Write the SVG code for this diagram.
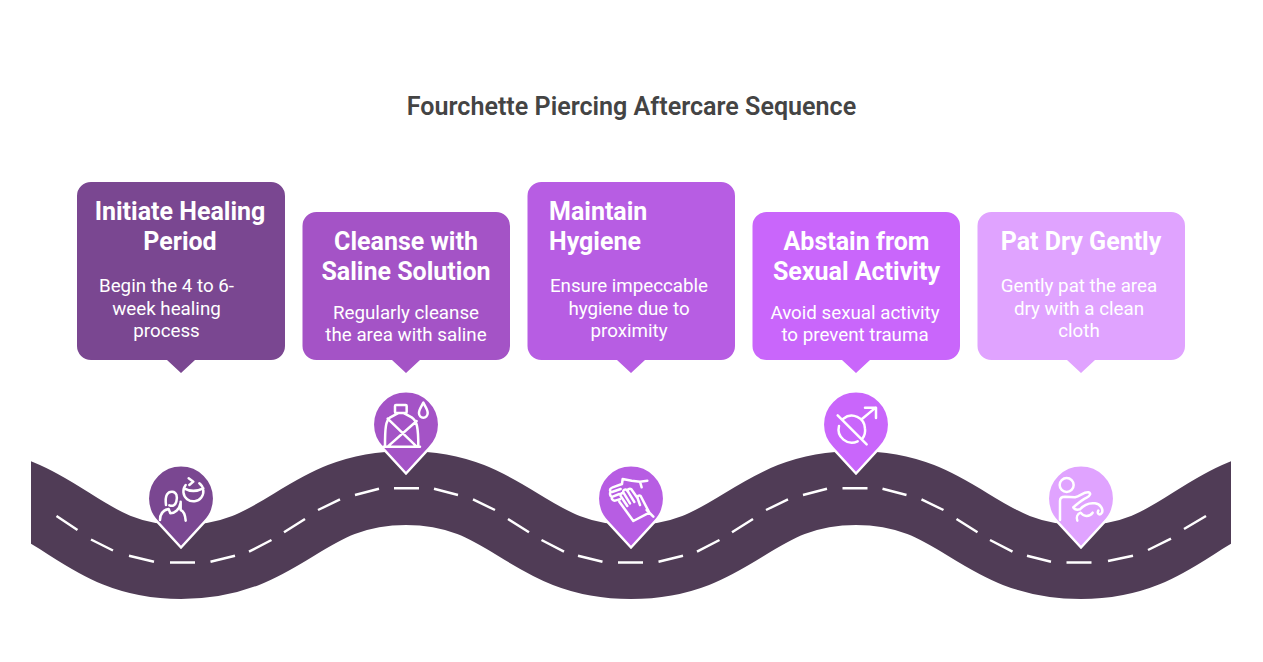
<svg xmlns="http://www.w3.org/2000/svg" width="1263" height="662" viewBox="0 0 1263 662">
<style>
text{font-family:Roboto,"Liberation Sans",sans-serif}
.t{font-size:25px;font-weight:700;fill:#fff;text-anchor:middle}
.b{font-size:18.750px;font-weight:400;fill:#fff;text-anchor:middle}
.i{fill:none;stroke:#fff;stroke-width:7.500;stroke-linecap:round;stroke-linejoin:round}
.p{stroke:#fff;stroke-width:2.500}
</style>
<defs>
<clipPath id="c"><rect x="31" y="400" width="1200" height="240"/></clipPath>
<path id="pin" d="M-23.300,23.300 A33.200,33.200 0 1 1 23.300,23.300 L0,48.700 Z"/>
</defs>
<rect width="1263" height="662" fill="#fff"/>
<text x="631.500" y="115.300" text-anchor="middle" font-size="25.100" font-weight="600" fill="#444">Fourchette Piercing Aftercare Sequence</text>
<g id="connectors">
<path clip-path="url(#c)" fill="none" stroke="#503c56" stroke-width="74" d="M-44,485C61,485 76,562 181,562C286,562 301,488 406,488C511,488 526,562 631,562C736,562 751,488 856,488C961,488 976,562 1081,562C1186,562 1201,485 1306,485"/>
<path fill="none" stroke="#fff" stroke-width="2.500" d="M56.500,516L77.500,530M91,539.500L113,550.500M129,555.700L154,561.700M170,562.500H195M210.500,561.700L235,555.700M249,551.700L271.500,540M284,532.300L305,519M318,510L340,499.300M355,495L379,488.700M394,488.300H419M434,488.700L458,495M473,499.300L495,510M508,519L529,532.300M541.500,540L564,551.700M578,555.700L602.500,561.700M618,562.500H643M658.500,561.700L683,555.700M697,551.700L719.500,540M732,532.300L753,519M766,510L788,499.300M803,495L827,488.700M842.500,488.300H867.500M882.500,488.700L906.500,495M921.500,499.300L943.500,510M956.500,519L977.500,532.300M990,540L1012.500,551.700M1027,555.700L1051,561.700M1066.500,562.500H1091.500M1108,561L1133,555.700M1148,550L1171,538.700M1184,529L1206,516"/>
</g>
<g id="node1">
<path d="M77,196a14,14 0 0 1 14,-14H271a14,14 0 0 1 14,14V346a14,14 0 0 1 -14,14H195L181,373L167,360H91a14,14 0 0 1 -14,-14Z" fill="#7a4791"/>
<text class="t" x="180" y="220.300">Initiate Healing</text><text class="t" x="180" y="250.300">Period</text>
<text class="b" x="166.500" y="292">Begin the 4 to 6-</text><text class="b" x="166.500" y="315">week healing</text><text class="b" x="166.500" y="337">process</text>
<use href="#pin" x="181" y="498.800" fill="#7a4791" class="p"/>
<g class="i" transform="translate(140,460) scale(.3333)">
<path d="M78,135C74,105 84,94 97,95C110,96 113,110 109,125C106,136 98,140 88,136"/>
<path d="M60,180C60,160 70,150 86,147L91,160C103,160 118,150 122,128M122,125V150C135,155 136,170 137,182"/>
<path d="M137,75A30,30 0 1 0 178,70M132,85C150,95 170,95 190,85M146,55L160,65L148,75"/>
</g>
</g>
<g id="node2">
<path d="M302.500,226a14,14 0 0 1 14,-14H496a14,14 0 0 1 14,14V346a14,14 0 0 1 -14,14H420L406,373L392,360H316.500a14,14 0 0 1 -14,-14Z" fill="#a453c6"/>
<text class="t" x="406" y="250.300">Cleanse with</text><text class="t" x="406" y="280.300">Saline Solution</text>
<text class="b" x="406" y="319">Regularly cleanse</text><text class="b" x="406" y="341">the area with saline</text>
<use href="#pin" x="406" y="424.800" fill="#a453c6" class="p"/>
<g class="i" transform="translate(365,386) scale(.3333)">
<rect x="90" y="57" width="35" height="24" rx="3"/>
<path d="M98,82L76,94C62,104 60,125 60,182M118,82L140,94C156,104 160,125 160,182M55,182H165M68,98L155,182M155,105L68,182"/>
<path d="M175,50C168,64 161,72 162,82A13,13 0 0 0 188,82C189,72 182,64 175,50Z"/>
</g>
</g>
<g id="node3">
<path d="M527.500,196a14,14 0 0 1 14,-14H721a14,14 0 0 1 14,14V346a14,14 0 0 1 -14,14H645L631,373L617,360H541.500a14,14 0 0 1 -14,-14Z" fill="#b75de3"/>
<text class="t" x="549" y="220.300" style="text-anchor:start">Maintain</text><text class="t" x="549" y="250.300" style="text-anchor:start">Hygiene</text>
<text class="b" x="629" y="292">Ensure impeccable</text><text class="b" x="629" y="315">hygiene due to</text><text class="b" x="629" y="337">proximity</text>
<use href="#pin" x="631" y="498.800" fill="#b75de3" class="p"/>
<g class="i" transform="translate(590,460) scale(.3333)">
<path d="M172,62L150,65L155,82M150,65L125,62L98,57L96,72L68,82C60,85 58,90 62,96C58,100 60,108 66,111C64,117 68,122 75,122L90,118M66,96L92,87M68,110L88,102"/>
<path d="M88,125L130,183L178,158L152,108C147,104 141,108 143,115L150,135M143,115L124,88C119,84 111,88 114,95L133,126M114,95L110,90C106,86 98,90 100,97L120,130M100,100C95,98 90,102 92,108L112,138M170,150L190,170"/>
</g>
</g>
<g id="node4">
<path d="M752.500,226a14,14 0 0 1 14,-14H946a14,14 0 0 1 14,14V346a14,14 0 0 1 -14,14H870L856,373L842,360H766.500a14,14 0 0 1 -14,-14Z" fill="#c966fb"/>
<text class="t" x="856.500" y="250.300">Abstain from</text><text class="t" x="856.500" y="280.300">Sexual Activity</text>
<text class="b" x="855" y="319">Avoid sexual activity</text><text class="b" x="855" y="341">to prevent trauma</text>
<use href="#pin" x="856" y="424.800" fill="#c966fb" class="p"/>
<g class="i" transform="translate(815,386) scale(.3333)">
<path d="M68,88L155,175M85,98A40,40 0 0 1 150,128A40,40 0 0 1 142,158M128,166A40,40 0 0 1 72,120M140,100L182,65M150,65H183V96"/>
</g>
</g>
<g id="node5">
<path d="M977.500,226a14,14 0 0 1 14,-14H1171a14,14 0 0 1 14,14V346a14,14 0 0 1 -14,14H1095L1081,373L1067,360H991.500a14,14 0 0 1 -14,-14Z" fill="#e0a3ff"/>
<text class="t" x="1081" y="250.300">Pat Dry Gently</text>
<text class="b" x="1079" y="292">Gently pat the area</text><text class="b" x="1079" y="315">dry with a clean</text><text class="b" x="1079" y="337">cloth</text>
<use href="#pin" x="1081" y="498.800" fill="#e0a3ff" class="p"/>
<g class="i" transform="translate(1040,460) scale(.3333)">
<circle cx="80" cy="75" r="21"/>
<path d="M60,180V122C60,112 66,110 75,110L105,112C122,108 130,96 145,97C155,99 150,108 140,113C125,120 112,132 100,142C104,150 112,150 120,148C132,134 148,128 165,130C182,132 190,148 186,158C180,168 170,162 175,152"/>
<path d="M112,182C108,172 112,162 122,158C130,170 148,172 158,158"/>
</g>
</g>
</svg>
